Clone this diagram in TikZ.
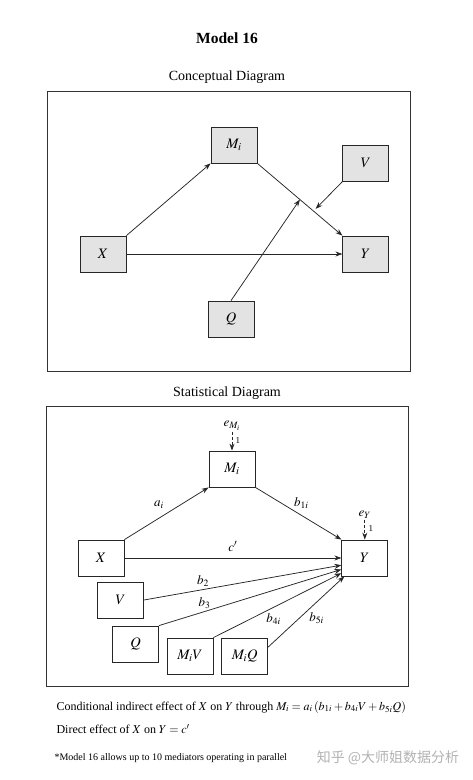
\documentclass[tikz,border=0pt]{standalone}
\usepackage{mathptmx}
\usepackage{fontspec}
\setmainfont{Liberation Serif}
\newfontfamily\cjkfont{Noto Sans CJK SC}
\usetikzlibrary{positioning,calc,arrows.meta}

\tikzset{
  frame/.style={draw=black!80, line width=0.9pt},
  cbox/.style={draw=black!85, fill=black!11, line width=0.8pt,
    minimum width=46pt, minimum height=36pt, inner sep=0pt,
    font=\fontsize{14.5}{16}\selectfont},
  sbox/.style={cbox, fill=white},
  link/.style={-{Stealth[length=7pt,width=5pt]}, line width=0.75pt, draw=black!85},
  errlink/.style={link, dash pattern=on 3pt off 2pt},
  coef/.style={font=\fontsize{13}{15}\selectfont, inner sep=1pt},
}

\begin{document}
\begin{tikzpicture}[x=1pt,y=-1pt]
  \useasboundingbox (0,0) rectangle (473,780);

  % Titles
  \node[font=\bfseries\fontsize{15.5}{18}\selectfont] (title) at (227,38) {Model 16};
  \node[font=\fontsize{14}{16}\selectfont] (ctitle) at (227,77) {Conceptual Diagram};
  \node[font=\fontsize{14}{16}\selectfont] (stitle) at (227,393) {Statistical Diagram};

  % Frames
  \draw[frame] (47,91) rectangle (410,371);
  \draw[frame] (46,406) rectangle (408,686);

  % Conceptual diagram
  \node[cbox] (cX) at (103,254) {$X$};
  \node[cbox, right=216pt of cX] (cY) {$Y$};
  \node[cbox] (cM) at (234,145) {$M_i$};
  \node[cbox, above=54pt of cY] (cV) {$V$};
  \node[cbox] (cQ) at (231,319) {$Q$};

  \coordinate (qmid) at ($(cM.south east)!0.5!(cY.north west)$);
  \coordinate (vmid) at ($(cM.south east)!0.66!(cY.north west)$);

  \draw[link] (cX.north east) -- (cM.south west);
  \draw[link] (cM.south east) -- (cY.north west);
  \draw[link] (cX.east) -- (cY.west);
  \draw[link] (cQ.north) -- (qmid);
  \draw[link, shorten >=3pt] (cV.south west) -- (vmid);

  % Statistical diagram
  \node[sbox] (sX) at (101,558) {$X$};
  \node[sbox, right=217pt of sX] (sY) {$Y$};
  \node[sbox] (sM) at (232,469) {$M_i$};
  \node[sbox] (sV) at (120.5,600) {$V$};
  \node[sbox] (sQ) at (135.5,644) {$Q$};
  \node[sbox] (sMV) at (190,656) {$M_iV$};
  \node[sbox, right=8pt of sMV] (sMQ) {$M_iQ$};

  % Error terms
  \node[coef, above=19pt of sM] (eM) {$e_{M_i}$};
  \node[coef, above=20pt of sY] (eY) {$e_Y$};
  \draw[errlink] (eM) -- (sM) node[pos=0.45, right=0pt, font=\fontsize{9}{10}\selectfont] {1};
  \draw[errlink] (eY) -- (sY) node[pos=0.45, right=0pt, font=\fontsize{9}{10}\selectfont] {1};

  \draw[link] (sX.north east) -- (sM.south west) node[coef, pos=0.41, above=8pt] {$a_i$};
  \draw[link] (sM.south east) -- (sY.north west) node[coef, pos=0.535, above=5pt] {$b_{1i}$};
  \draw[link] (sX.east) -- (sY.west) node[coef, midway, above=5pt] {$c'$};
  \draw[link] (sV.east) -- (sY.197) node[coef, pos=0.3, above=2pt] {$b_2$};
  \draw[link] (sQ.north east) -- (sY.206) node[coef, pos=0.25, above=2pt] {$b_3$};
  \draw[link] (sMV.north east) -- (sY.213) node[coef, pos=0.47, below=5pt] {$b_{4i}$};
  \draw[link] (sMQ.21) -- (sY.222) node[coef, pos=0.636, below=9pt] {$b_{5i}$};

  % Effects
  \node[anchor=west, font=\fontsize{12}{15}\selectfont] (indirect) at (53,707)
    {Conditional indirect effect of $X$ on $Y$ through $M_i = a_i\,(b_{1i} + b_{4i}V + b_{5i}Q)$};
  \node[anchor=west, font=\fontsize{12}{15}\selectfont] (direct) at (53,729)
    {Direct effect of $X$ on $Y = c'$};
  \node[anchor=west, font=\fontsize{10}{12}\selectfont] (note) at (51,758)
    {*Model 16 allows up to 10 mediators operating in parallel};
  \node[font=\cjkfont\fontsize{14}{16}\selectfont, text=black!30] (mark) at (388,758)
    {知乎 @大师姐数据分析};
\end{tikzpicture}
\end{document}
